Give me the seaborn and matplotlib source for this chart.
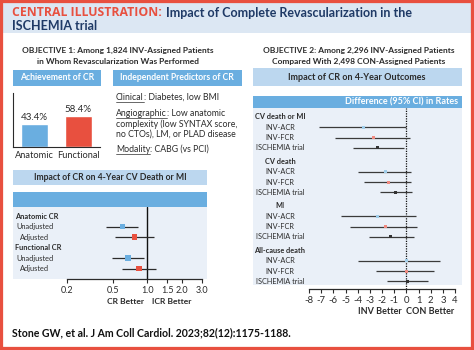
import pandas as pd
import numpy as np
import matplotlib
matplotlib.use("Agg")
import matplotlib.pyplot as plt
from matplotlib.patches import Rectangle
import seaborn as sns

# ---------------- data ----------------
cr_types = ["Anatomic", "Functional"]
cr_pct = [43.4, 58.4]

left_groups = ["Anatomic CR", "Functional CR"]
left_rows = ["Unadjusted", "Adjusted"]
left_est = [[0.61, 0.77], [0.68, 0.85]]
left_lo = [[0.44, 0.52], [0.49, 0.60]]
left_hi = [[0.83, 1.15], [0.94, 1.19]]
left_ticks = [0.2, 0.5, 1.0, 1.5, 2.0, 3.0]

right_groups = ["CV death or MI", "CV death", "MI", "All-cause death"]
right_rows = ["INV-ACR", "INV-FCR", "ISCHEMIA trial"]
right_est = [[-3.5, -2.7, -2.4], [-1.75, -1.5, -0.9], [-2.4, -1.75, -1.3], [0.0, 0.0, 0.1]]
right_lo = [[-7.2, -5.9, -4.4], [-4.0, -3.5, -2.2], [-5.4, -4.6, -3.1], [-4.0, -2.5, -1.6]]
right_hi = [[0.0, 0.3, -0.2], [0.4, 0.4, 0.5], [0.8, 0.85, 0.6], [2.8, 2.3, 1.75]]
right_ticks = list(range(-8, 5))

# ---------------- style ----------------
RED = "#e8503f"
BLUE = "#6aaee0"
LIGHT = "#bcd7ef"
BAND = "#dce7f3"
BG = "#eaf0f8"
NAVY = "#1f3a66"
DARK = "#2b2b2b"
FONT = "Lato"

sns.set_theme(style="white")
plt.rcParams["font.family"] = [FONT, "DejaVu Sans"]

W, H = 474, 350
fig = plt.figure(figsize=(W / 100, H / 100), dpi=100)


def fx(px):
    return px / W


def fy(py):
    return 1 - py / H


def box(x0, y0, x1, y1, color):
    fig.patches.append(Rectangle((fx(x0), fy(y1)), (x1 - x0) / W, (y1 - y0) / H,
                                 transform=fig.transFigure, facecolor=color,
                                 edgecolor="none", zorder=-1))


def axes_px(x0, y0, x1, y1):
    a = fig.add_axes([fx(x0), fy(y1), (x1 - x0) / W, (y1 - y0) / H])
    a.set_zorder(2)
    return a


# frame + title band
box(0, 0, W, 33, BAND)
fig.patches.append(Rectangle((0, 0), 1, 1, transform=fig.transFigure, fill=False,
                             edgecolor=RED, linewidth=4.5, zorder=10))

t1 = fig.text(fx(12), fy(13), "CENTRAL ILLUSTRATION:", color=RED, fontsize=8.8,
              fontweight="bold", va="center", ha="left", family=["Open Sans", "DejaVu Sans"])
fig.canvas.draw()
rend = fig.canvas.get_renderer()
bb = t1.get_window_extent(rend)
fig.text(bb.x1 / W + fx(4), fy(13), "Impact of Complete Revascularization in the",
         color=NAVY, fontsize=9, fontweight="bold", va="center", ha="left")
fig.text(fx(12), fy(25.5), "ISCHEMIA trial", color=NAVY, fontsize=9,
         fontweight="bold", va="center", ha="left")

# objectives
fig.text(fx(118), fy(50), "OBJECTIVE 1: Among 1,824 INV-Assigned Patients", fontsize=6,
         fontweight="bold", ha="center", va="center", color=DARK)
fig.text(fx(118), fy(61), "in Whom Revascularization Was Performed", fontsize=6,
         fontweight="bold", ha="center", va="center", color=DARK)
fig.text(fx(359), fy(50), "OBJECTIVE 2: Among 2,296 INV-Assigned Patients", fontsize=6,
         fontweight="bold", ha="center", va="center", color=DARK)
fig.text(fx(359), fy(61), "Compared With 2,498 CON-Assigned Patients", fontsize=6,
         fontweight="bold", ha="center", va="center", color=DARK)

# section boxes
box(13, 70, 101, 86, BLUE)
fig.text(fx(57), fy(78), "Achievement of CR", fontsize=6.2, fontweight="bold",
         color="white", ha="center", va="center")
box(113, 70, 242, 86, BLUE)
fig.text(fx(177), fy(78), "Independent Predictors of CR", fontsize=6.2, fontweight="bold",
         color="white", ha="center", va="center")

box(13, 170, 207, 185, LIGHT)
fig.text(fx(110), fy(177.5), "Impact of CR on 4-Year CV Death or MI", fontsize=6.2,
         fontweight="bold", color=DARK, ha="center", va="center")
box(13, 192, 207, 207, BLUE)

box(253, 68, 462, 86, LIGHT)
fig.text(fx(357), fy(77), "Impact of CR on 4-Year Outcomes", fontsize=6.5,
         fontweight="bold", color=DARK, ha="center", va="center")
box(253, 96, 462, 108, BLUE)
fig.text(fx(458), fy(102), "Difference (95% CI) in Rates", fontsize=6.5,
         fontweight="bold", color="white", ha="right", va="center")
box(253, 108, 462, 285, BG)

# predictors text (underlined keywords)
pred = [("Clinical", ": Diabetes, low BMI", 97),
        ("Angiographic", ": Low anatomic", 114),
        ("Modality", ": CABG (vs PCI)", 149)]
for word, rest, yy in pred:
    tw = fig.text(fx(116), fy(yy), word, fontsize=6.3, ha="left", va="center", color=DARK)
    b = tw.get_window_extent(rend)
    fig.add_artist(plt.Line2D([b.x0 / W, b.x1 / W], [b.y0 / H, b.y0 / H],
                              transform=fig.transFigure, color=DARK, lw=0.5))
    fig.text(b.x1 / W, fy(yy), rest, fontsize=6.3, ha="left", va="center", color=DARK)
fig.text(fx(116), fy(124), "complexity (low SYNTAX score,", fontsize=6.3, ha="left",
         va="center", color=DARK)
fig.text(fx(116), fy(134), "no CTOs), LM, or PLAD disease", fontsize=6.3, ha="left",
         va="center", color=DARK)

# ---------------- bar chart ----------------
ax_bar = axes_px(13, 93, 100, 147)
bar_df = pd.DataFrame({"type": cr_types, "pct": cr_pct})
sns.barplot(data=bar_df, x="type", y="pct", hue="type", palette=[BLUE, RED],
            width=0.62, legend=False, ax=ax_bar, saturation=1)
ax_bar.set_ylim(0, 102)
ax_bar.set_xlim(-0.5, 1.5)
for i, v in enumerate(cr_pct):
    ax_bar.text(i, v + 3, f"{v}%", ha="center", va="bottom", fontsize=7, color=DARK)
ax_bar.set_yticks([])
ax_bar.set_xlabel("")
ax_bar.set_ylabel("")
ax_bar.tick_params(axis="x", length=0, labelsize=6.7, pad=3, colors=DARK)
ax_bar.set_facecolor("none")
for s in ["top", "right"]:
    ax_bar.spines[s].set_visible(False)
for s in ["left", "bottom"]:
    ax_bar.spines[s].set_color(DARK)
    ax_bar.spines[s].set_linewidth(0.8)

# ---------------- left forest plot ----------------
ax_l = axes_px(13, 207, 207, 279)
ax_l.set_facecolor(BG)
rows = []
for g, grp in enumerate(left_groups):
    for k, r in enumerate(left_rows):
        rows.append({"y": g * 3 + k + 1, "label": r, "est": left_est[g][k],
                     "lo": left_lo[g][k], "hi": left_hi[g][k], "kind": r})
ldf = pd.DataFrame(rows)
ax_l.hlines(ldf["y"], ldf["lo"], ldf["hi"], color=DARK, lw=0.9, zorder=2)
sns.scatterplot(data=ldf, x="est", y="y", hue="kind", palette=[BLUE, RED], marker="s",
                s=14, linewidth=0, legend=False, ax=ax_l, zorder=3)
ax_l.set_xscale("log")
ax_l.set_xlim(0.0678, 3.32)
ax_l.set_ylim(6.0, -0.86)
ax_l.axvline(1.0, color="#111111", lw=1.0, zorder=1)
for g, grp in enumerate(left_groups):
    ax_l.text(0.01, g * 3, grp, transform=ax_l.get_yaxis_transform(), fontsize=5.3,
              fontweight="bold", ha="left", va="center", color=DARK)
for _, r in ldf.iterrows():
    ax_l.text(0.113, r["y"], r["label"], transform=ax_l.get_yaxis_transform(),
              fontsize=5.3, ha="center", va="center", color=DARK)
ax_l.set_xticks(left_ticks)
ax_l.set_xticklabels([f"{t:.1f}" for t in left_ticks])
ax_l.xaxis.set_minor_locator(matplotlib.ticker.NullLocator())
ax_l.set_yticks([])
ax_l.set_xlabel("")
ax_l.set_ylabel("")
ax_l.tick_params(axis="x", direction="out", length=3, width=0.8, labelsize=6.5,
                 pad=2, colors=DARK, bottom=True)
for s in ["top", "right", "left"]:
    ax_l.spines[s].set_visible(False)
ax_l.spines["bottom"].set_bounds(0.2, 3.0)
ax_l.spines["bottom"].set_color(DARK)
ax_l.spines["bottom"].set_linewidth(0.9)
fig.text(fx(126), fy(301), "CR Better", fontsize=6.1, fontweight="bold", ha="center",
         va="center", color=DARK)
fig.text(fx(172), fy(301), "ICR Better", fontsize=6.1, fontweight="bold", ha="center",
         va="center", color=DARK)

# ---------------- right forest plot ----------------
ax_r = axes_px(253, 108, 462, 289)
ax_r.set_facecolor("none")
rrows = []
for g, grp in enumerate(right_groups):
    for k, r in enumerate(right_rows):
        rrows.append({"y": g * 4.32 + k + 1, "label": r, "est": right_est[g][k],
                      "lo": right_lo[g][k], "hi": right_hi[g][k], "kind": r})
rdf = pd.DataFrame(rrows)
ax_r.hlines(rdf["y"], rdf["lo"], rdf["hi"], color="#3a3a3a", lw=0.9, zorder=2)
sns.scatterplot(data=rdf, x="est", y="y", hue="kind",
                palette=["#9fcdea", "#f08a80", "#333333"], marker="s", s=5,
                linewidth=0, legend=False, ax=ax_r, zorder=3)
ax_r.set_xlim(-12.6, 4.57)
ax_r.set_ylim(16.7, -0.87)
ax_r.axvline(0, color="#111111", lw=0.9, ls=(0, (1, 1)), zorder=1)
for g, grp in enumerate(right_groups):
    ax_r.text(0.129, g * 4.32, grp, transform=ax_r.get_yaxis_transform(), fontsize=5.3,
              fontweight="bold", ha="center", va="center", color=DARK)
for _, r in rdf.iterrows():
    ax_r.text(0.129, r["y"], r["label"], transform=ax_r.get_yaxis_transform(),
              fontsize=5.3, ha="center", va="center", color=DARK)
ax_r.set_xticks(right_ticks)
ax_r.set_xticklabels([str(t) for t in right_ticks])
ax_r.set_yticks([])
ax_r.set_xlabel("")
ax_r.set_ylabel("")
ax_r.tick_params(axis="x", direction="out", length=3, width=0.8, labelsize=6.8,
                 pad=2, colors=DARK, bottom=True)
for s in ["top", "right", "left"]:
    ax_r.spines[s].set_visible(False)
ax_r.spines["bottom"].set_bounds(-8, 4)
ax_r.spines["bottom"].set_color(DARK)
ax_r.spines["bottom"].set_linewidth(0.9)
fig.text(fx(380), fy(311), "INV Better", fontsize=6.5, fontweight="bold", ha="center",
         va="center", color=DARK)
fig.text(fx(430), fy(311), "CON Better", fontsize=6.5, fontweight="bold", ha="center",
         va="center", color=DARK)

# footer
fig.text(fx(12), fy(333), "Stone GW, et al. J Am Coll Cardiol. 2023;82(12):1175-1188.",
         fontsize=7.6, fontweight="bold", ha="left", va="center", color="#111111")

fig.savefig("out.png", dpi=100)
